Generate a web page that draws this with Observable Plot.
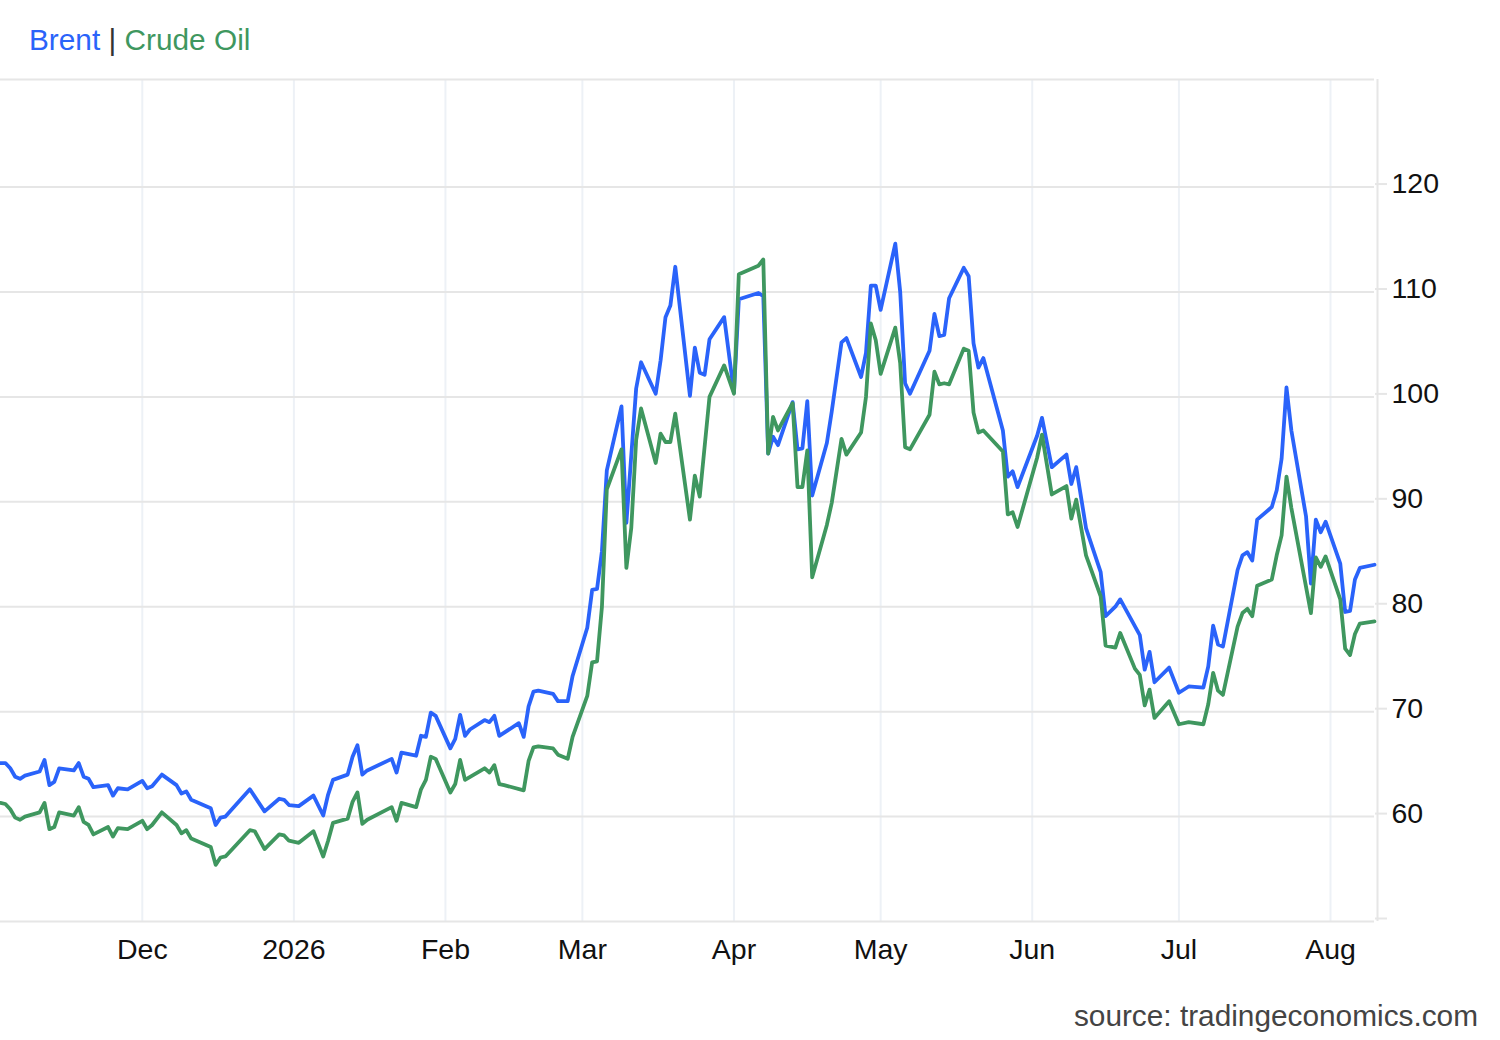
<!DOCTYPE html>
<html>
<head>
<meta charset="utf-8">
<script src="https://cdn.jsdelivr.net/npm/d3@7"></script>
<script src="https://cdn.jsdelivr.net/npm/@observablehq/plot@0.6"></script>
<style>
  html, body { margin: 0; padding: 0; background: #fff; }
  #wrap { position: relative; width: 1500px; height: 1040px; font-family: "Liberation Sans", Arial, sans-serif; }
  #title { position: absolute; left: 29px; top: 25px; font-size: 29.8px; line-height: 1; white-space: nowrap; }
  #chart { position: absolute; left: 0; top: 60px; }
  #source { position: absolute; right: 22px; top: 1001px; font-size: 29.8px; line-height: 1; color: #444; white-space: nowrap; }
</style>
</head>
<body>
<div id="wrap">
  <div id="title"></div>
  <div id="chart"></div>
  <div id="source"></div>
</div>
<script>
// ---------- data ----------
const seriesNames = ["Brent", "Crude Oil"];
const seriesColors = ["#2a63fa", "#3f975f"];
const sourceText = "source: tradingeconomics.com";

const brentDates = [
  "2025-11-02","2025-11-03","2025-11-04","2025-11-05","2025-11-06","2025-11-07","2025-11-10","2025-11-11","2025-11-12","2025-11-13",
  "2025-11-14","2025-11-17","2025-11-18","2025-11-19","2025-11-20","2025-11-21","2025-11-24","2025-11-25","2025-11-26","2025-11-28",
  "2025-12-01","2025-12-02","2025-12-03","2025-12-05","2025-12-08","2025-12-09","2025-12-10","2025-12-11","2025-12-15","2025-12-16",
  "2025-12-17","2025-12-18","2025-12-23","2025-12-26","2025-12-29","2025-12-30","2025-12-31","2026-01-02","2026-01-05","2026-01-07",
  "2026-01-08","2026-01-09","2026-01-12","2026-01-13","2026-01-14","2026-01-15","2026-01-16","2026-01-21","2026-01-22","2026-01-23",
  "2026-01-26","2026-01-27","2026-01-28","2026-01-29","2026-01-30","2026-02-02","2026-02-03","2026-02-04","2026-02-05","2026-02-06",
  "2026-02-09","2026-02-10","2026-02-11","2026-02-12","2026-02-16","2026-02-17","2026-02-18","2026-02-19","2026-02-20","2026-02-23",
  "2026-02-24","2026-02-26","2026-02-27","2026-03-02","2026-03-03","2026-03-04","2026-03-05","2026-03-06","2026-03-09","2026-03-10",
  "2026-03-12","2026-03-13","2026-03-16","2026-03-17","2026-03-18","2026-03-19","2026-03-20","2026-03-23","2026-03-24","2026-03-25",
  "2026-03-26","2026-03-27","2026-03-30","2026-04-01","2026-04-02","2026-04-06","2026-04-07","2026-04-08","2026-04-09","2026-04-10",
  "2026-04-13","2026-04-14","2026-04-15","2026-04-16","2026-04-17","2026-04-20","2026-04-21","2026-04-23","2026-04-24","2026-04-27",
  "2026-04-28","2026-04-29","2026-04-30","2026-05-01","2026-05-04","2026-05-05","2026-05-06","2026-05-07","2026-05-11","2026-05-12",
  "2026-05-13","2026-05-14","2026-05-15","2026-05-18","2026-05-19","2026-05-20","2026-05-21","2026-05-22","2026-05-26","2026-05-27",
  "2026-05-28","2026-05-29","2026-06-02","2026-06-03","2026-06-05","2026-06-08","2026-06-09","2026-06-10","2026-06-12","2026-06-15",
  "2026-06-16","2026-06-18","2026-06-19","2026-06-23","2026-06-24","2026-06-25","2026-06-26","2026-06-29","2026-07-01","2026-07-03",
  "2026-07-06","2026-07-07","2026-07-08","2026-07-09","2026-07-10","2026-07-13","2026-07-14","2026-07-15","2026-07-16","2026-07-17",
  "2026-07-20","2026-07-21","2026-07-22","2026-07-23","2026-07-24","2026-07-27","2026-07-28","2026-07-29","2026-07-30","2026-07-31",
  "2026-08-03","2026-08-04","2026-08-05","2026-08-06","2026-08-07","2026-08-10"
];
const brentValues = [
  65.1,65.1,64.6,63.8,63.6,63.9,64.3,65.4,63.0,63.3,
  64.6,64.4,65.1,63.8,63.6,62.8,63.0,62.0,62.7,62.6,
  63.4,62.7,62.9,64.0,63.0,62.2,62.4,61.6,60.8,59.2,
  59.9,60.0,62.6,60.5,61.7,61.6,61.1,61.0,62.0,60.1,
  62.1,63.5,64.0,65.7,66.8,64.0,64.4,65.5,64.2,66.1,
  65.8,67.7,67.6,69.9,69.6,66.5,67.4,69.7,67.7,68.3,
  69.2,69.0,69.6,67.7,68.9,67.6,70.5,71.9,72.0,71.7,
  71.0,71.0,73.4,78.0,81.6,81.7,85.3,93.0,99.1,88.0,
  100.8,103.3,100.3,103.5,107.6,108.7,112.4,100.1,104.7,102.3,
  102.1,105.5,107.6,100.4,109.3,109.9,109.6,94.6,96.2,95.4,
  99.5,95.0,95.1,99.6,90.6,95.6,98.6,105.2,105.6,101.9,
  104.2,110.6,110.6,108.3,114.6,110.0,101.3,100.3,104.4,107.9,
  105.8,105.9,109.4,112.3,111.5,105.1,102.8,103.7,96.8,92.4,
  92.9,91.4,96.3,98.0,93.3,94.5,91.7,93.3,87.5,83.3,
  79.1,80.0,80.7,77.3,74.0,75.7,72.8,74.2,71.8,72.4,
  72.3,74.3,78.2,76.4,76.2,83.5,84.9,85.2,84.4,88.3,
  89.5,91.1,94.1,100.9,96.8,88.6,82.2,88.3,87.1,88.1,
  84.1,79.5,79.6,82.6,83.7,84.0
];

const crudeDates = [
  "2025-11-02","2025-11-03","2025-11-04","2025-11-05","2025-11-06","2025-11-07","2025-11-10","2025-11-11","2025-11-12","2025-11-13",
  "2025-11-14","2025-11-17","2025-11-18","2025-11-19","2025-11-20","2025-11-21","2025-11-24","2025-11-25","2025-11-26","2025-11-28",
  "2025-12-01","2025-12-02","2025-12-03","2025-12-05","2025-12-08","2025-12-09","2025-12-10","2025-12-11","2025-12-15","2025-12-16",
  "2025-12-17","2025-12-18","2025-12-23","2025-12-24","2025-12-26","2025-12-29","2025-12-30","2025-12-31","2026-01-02","2026-01-05",
  "2026-01-07","2026-01-08","2026-01-09","2026-01-12","2026-01-13","2026-01-14","2026-01-15","2026-01-16","2026-01-21","2026-01-22",
  "2026-01-23","2026-01-26","2026-01-27","2026-01-28","2026-01-29","2026-01-30","2026-02-02","2026-02-03","2026-02-04","2026-02-05",
  "2026-02-09","2026-02-10","2026-02-11","2026-02-12","2026-02-13","2026-02-17","2026-02-18","2026-02-19","2026-02-20","2026-02-23",
  "2026-02-24","2026-02-26","2026-02-27","2026-03-02","2026-03-03","2026-03-04","2026-03-05","2026-03-06","2026-03-09","2026-03-10",
  "2026-03-11","2026-03-12","2026-03-13","2026-03-16","2026-03-17","2026-03-18","2026-03-19","2026-03-20","2026-03-23","2026-03-24",
  "2026-03-25","2026-03-27","2026-03-30","2026-04-01","2026-04-02","2026-04-06","2026-04-07","2026-04-08","2026-04-09","2026-04-10",
  "2026-04-13","2026-04-14","2026-04-15","2026-04-16","2026-04-17","2026-04-20","2026-04-21","2026-04-23","2026-04-24","2026-04-27",
  "2026-04-28","2026-04-29","2026-04-30","2026-05-01","2026-05-04","2026-05-05","2026-05-06","2026-05-07","2026-05-11","2026-05-12",
  "2026-05-13","2026-05-14","2026-05-15","2026-05-18","2026-05-19","2026-05-20","2026-05-21","2026-05-22","2026-05-26","2026-05-27",
  "2026-05-28","2026-05-29","2026-06-02","2026-06-03","2026-06-05","2026-06-08","2026-06-09","2026-06-10","2026-06-12","2026-06-15",
  "2026-06-16","2026-06-18","2026-06-19","2026-06-22","2026-06-23","2026-06-24","2026-06-25","2026-06-26","2026-06-29","2026-07-01",
  "2026-07-03","2026-07-06","2026-07-07","2026-07-08","2026-07-09","2026-07-10","2026-07-13","2026-07-14","2026-07-15","2026-07-16",
  "2026-07-17","2026-07-20","2026-07-21","2026-07-22","2026-07-23","2026-07-24","2026-07-28","2026-07-29","2026-07-30","2026-07-31",
  "2026-08-03","2026-08-04","2026-08-05","2026-08-06","2026-08-07","2026-08-10"
];
const crudeValues = [
  61.3,61.2,60.7,59.9,59.7,60.0,60.4,61.3,58.8,59.0,
  60.4,60.1,60.9,59.5,59.2,58.3,59.0,58.1,58.9,58.8,
  59.6,58.8,59.2,60.4,59.2,58.4,58.7,57.9,57.1,55.4,
  56.1,56.2,58.7,58.6,56.9,58.3,58.2,57.7,57.5,58.6,
  56.2,57.7,59.4,59.8,61.4,62.3,59.3,59.7,60.9,59.6,
  61.3,60.9,62.6,63.5,65.7,65.5,62.3,63.1,65.4,63.5,
  64.6,64.2,64.9,63.1,63.0,62.5,65.3,66.6,66.7,66.5,
  65.9,65.5,67.6,71.5,74.7,74.8,80.0,91.2,95.0,83.7,
  87.5,95.9,98.9,93.7,96.5,95.7,95.7,98.4,88.3,92.5,
  90.5,100.0,103.0,100.3,111.7,112.5,113.1,94.6,98.1,96.8,
  99.4,91.4,91.4,94.9,82.8,87.8,89.9,96.0,94.5,96.6,
  100.0,107.0,105.4,102.2,106.6,103.2,95.2,95.0,98.3,102.4,
  101.2,101.3,101.2,104.6,104.4,98.5,96.6,96.8,94.8,88.8,
  89.0,87.6,94.2,96.4,90.7,91.5,88.4,90.2,84.9,81.0,
  76.3,76.1,77.5,74.1,73.5,70.6,72.1,69.4,71.0,68.8,
  69.0,68.8,70.7,73.7,72.0,71.6,78.1,79.4,79.8,79.1,
  82.0,82.6,84.9,86.8,92.4,89.4,79.4,84.7,83.8,84.8,
  80.7,76.0,75.4,77.4,78.4,78.6
];

const xStart = "2025-11-02";
const xEnd = "2026-08-10";
const monthTickDates = ["2025-12-01","2026-01-01","2026-02-01","2026-03-01","2026-04-01","2026-05-01","2026-06-01","2026-07-01","2026-08-01"];
const monthTickLabels = ["Dec","2026","Feb","Mar","Apr","May","Jun","Jul","Aug"];
const yMin = 50;
const yMax = 130.25;
const yTickValues = [50, 60, 70, 80, 90, 100, 110, 120];
const yTickLabels = ["", "60", "70", "80", "90", "100", "110", "120"];

// ---------- build ----------
const parse = d3.utcParse("%Y-%m-%d");
const brentRows = brentDates.map((d, i) => ({date: parse(d), value: brentValues[i]}));
const crudeRows = crudeDates.map((d, i) => ({date: parse(d), value: crudeValues[i]}));
const monthTicks = monthTickDates.map(parse);
const monthLabelOf = new Map(monthTicks.map((d, i) => [+d, monthTickLabels[i]]));
const yLabelOf = new Map(yTickValues.map((v, i) => [v, yTickLabels[i]]));
const xDomain = [parse(xStart), parse(xEnd)];

// title
const title = document.getElementById("title");
title.innerHTML =
  `<span style="color:${seriesColors[0]}">${seriesNames[0]}</span>` +
  `<span style="color:#333"> | </span>` +
  `<span style="color:${seriesColors[1]}">${seriesNames[1]}</span>`;
document.getElementById("source").textContent = sourceText;

const gridH = "#e6e6e6";
const gridV = "#edf1f6";

const chart = Plot.plot({
  width: 1500,
  height: 920,
  marginTop: 19,
  marginBottom: 59,
  marginLeft: 0,
  marginRight: 126,
  x: {type: "utc", domain: xDomain},
  y: {domain: [yMin, yMax]},
  style: {fontFamily: "'Liberation Sans', Arial, sans-serif", fontSize: "28px", color: "#111", background: "#fff", overflow: "visible"},
  marks: [
    Plot.ruleX(monthTicks, {stroke: gridV, strokeWidth: 2}),
    Plot.ruleY(yTickValues, {stroke: gridH, strokeWidth: 2}),
    Plot.ruleY([yMax], {stroke: gridH, strokeWidth: 2}),
    Plot.ruleX([xDomain[1]], {stroke: gridH, strokeWidth: 2, dx: 3}),
    Plot.axisY({
      anchor: "right",
      ticks: yTickValues,
      tickSize: 12,
      tickPadding: 5,
      stroke: gridH,
      strokeWidth: 2,
      tickFormat: v => yLabelOf.get(v),
      fontSize: 28.5,
      fill: "#111",
      dy: -3,
      label: null
    }),
    Plot.axisX({
      ticks: monthTicks,
      tickSize: 0,
      tickPadding: 17,
      tickFormat: d => monthLabelOf.get(+d),
      fontSize: 28.5,
      fill: "#111",
      label: null
    }),
    Plot.line(brentRows, {x: "date", y: "value", stroke: seriesColors[0], strokeWidth: 3.8, strokeLinejoin: "round"}),
    Plot.line(crudeRows, {x: "date", y: "value", stroke: seriesColors[1], strokeWidth: 3.8, strokeLinejoin: "round"})
  ]
});
document.getElementById("chart").appendChild(chart);
</script>
</body>
</html>
